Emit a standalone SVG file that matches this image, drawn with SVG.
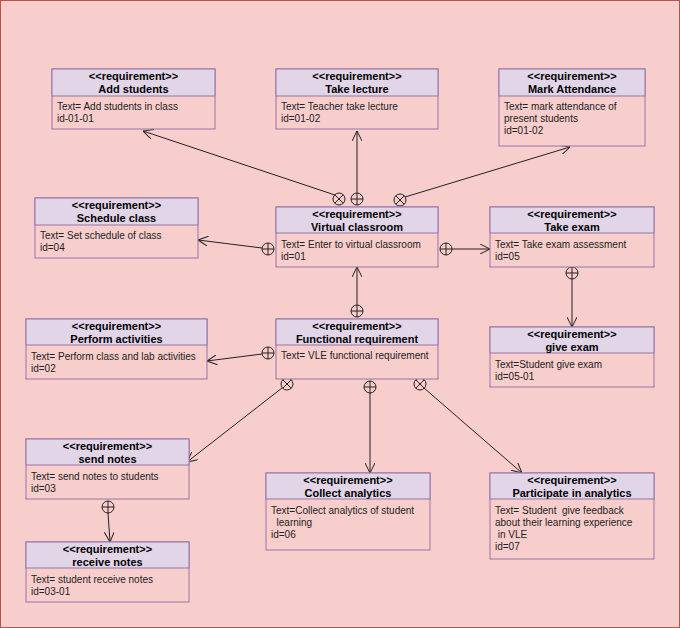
<svg xmlns="http://www.w3.org/2000/svg" width="680" height="628" viewBox="0 0 680 628">
<defs>
<style>
.h{fill:#e1d5e7;stroke:#9673a6;stroke-width:1}
.b{fill:#f8cecc;stroke:#9673a6;stroke-width:1}
.s{font-family:"Liberation Sans",Arial,sans-serif;font-size:11px;font-weight:bold;fill:#000;text-anchor:middle}
.t{font-family:"Liberation Sans",Arial,sans-serif;font-size:10px;fill:#222}
.c line{stroke:#222;stroke-width:1}
.sym{fill:none;stroke:#222;stroke-width:1}
</style>
<marker id="a" viewBox="0 0 10 10" refX="10" refY="5" markerWidth="10" markerHeight="10" orient="auto" markerUnits="userSpaceOnUse"><path d="M0,0 L10,5 L0,10" fill="none" stroke="#222"/></marker>
<g id="op" class="sym"><circle r="6" fill="none"/><path d="M-6,0H6M0,-6V6"/></g>
<g id="ox" class="sym"><circle r="6" fill="none"/><path d="M-4.2,-4.2L4.2,4.2M-4.2,4.2L4.2,-4.2"/></g>
</defs>
<rect x="0.5" y="0.5" width="679" height="627" fill="#f8cecc" stroke="#b85450"/>
<g class="c" id="connectors">
<line x1="335" y1="195" x2="143" y2="131" marker-end="url(#a)"/>
<line x1="357" y1="193" x2="357" y2="131" marker-end="url(#a)"/>
<line x1="405" y1="197" x2="570" y2="147" marker-end="url(#a)"/>
<line x1="262" y1="248" x2="198" y2="240" marker-end="url(#a)"/>
<line x1="452" y1="249" x2="490" y2="249" marker-end="url(#a)"/>
<line x1="572" y1="279" x2="572" y2="327" marker-end="url(#a)"/>
<line x1="357" y1="305" x2="357" y2="267" marker-end="url(#a)"/>
<line x1="262" y1="354" x2="207" y2="361" marker-end="url(#a)"/>
<line x1="282" y1="388" x2="187" y2="462" marker-end="url(#a)"/>
<line x1="370" y1="393" x2="370" y2="473" marker-end="url(#a)"/>
<line x1="424" y1="388" x2="522" y2="473" marker-end="url(#a)"/>
<line x1="108" y1="513" x2="110" y2="542" marker-end="url(#a)"/>
<use href="#ox" x="339" y="199"/><use href="#op" x="357" y="199"/><use href="#ox" x="400" y="200"/>
<use href="#op" x="268" y="249"/><use href="#op" x="446" y="249"/><use href="#op" x="572" y="273"/>
<use href="#op" x="357" y="311"/><use href="#op" x="268" y="353"/><use href="#ox" x="287" y="384"/>
<use href="#op" x="370" y="387"/><use href="#ox" x="420" y="384"/><use href="#op" x="108" y="507"/>
</g>
<g id="add"><rect class="b" x="52" y="69" width="163" height="60"/><rect class="h" x="52" y="69" width="163" height="27"/><text class="s" x="133.5" y="80">&lt;&lt;requirement&gt;&gt;</text><text class="s" x="133.5" y="93">Add students</text><text class="t" x="57" y="110">Text= Add students in class</text><text class="t" x="57" y="122">id-01-01</text></g>
<g id="lecture"><rect class="b" x="276" y="69" width="162" height="60"/><rect class="h" x="276" y="69" width="162" height="27"/><text class="s" x="357" y="80">&lt;&lt;requirement&gt;&gt;</text><text class="s" x="357" y="93">Take lecture</text><text class="t" x="281" y="110">Text= Teacher take lecture</text><text class="t" x="281" y="122">id=01-02</text></g>
<g id="mark"><rect class="b" x="499" y="69" width="146" height="77"/><rect class="h" x="499" y="69" width="146" height="27"/><text class="s" x="572" y="80">&lt;&lt;requirement&gt;&gt;</text><text class="s" x="572" y="93">Mark Attendance</text><text class="t" x="504" y="110">Text= mark attendance of</text><text class="t" x="504" y="122">present students</text><text class="t" x="504" y="134">id=01-02</text></g>
<g id="schedule"><rect class="b" x="35" y="198" width="163" height="60"/><rect class="h" x="35" y="198" width="163" height="27"/><text class="s" x="116.5" y="209">&lt;&lt;requirement&gt;&gt;</text><text class="s" x="116.5" y="222">Schedule class</text><text class="t" x="40" y="239">Text= Set schedule of class</text><text class="t" x="40" y="251">id=04</text></g>
<g id="vc"><rect class="b" x="276" y="207" width="162" height="60"/><rect class="h" x="276" y="207" width="162" height="26"/><text class="s" x="357" y="218">&lt;&lt;requirement&gt;&gt;</text><text class="s" x="357" y="231">Virtual classroom</text><text class="t" x="281" y="248">Text= Enter to virtual classroom</text><text class="t" x="281" y="260">id=01</text></g>
<g id="exam"><rect class="b" x="490" y="207" width="164" height="60"/><rect class="h" x="490" y="207" width="164" height="26"/><text class="s" x="572" y="218">&lt;&lt;requirement&gt;&gt;</text><text class="s" x="572" y="231">Take exam</text><text class="t" x="495" y="248">Text= Take exam assessment</text><text class="t" x="495" y="260">id=05</text></g>
<g id="perform"><rect class="b" x="26" y="319" width="181" height="60"/><rect class="h" x="26" y="319" width="181" height="26"/><text class="s" x="116.5" y="330">&lt;&lt;requirement&gt;&gt;</text><text class="s" x="116.5" y="343">Perform activities</text><text class="t" x="31" y="360">Text= Perform class and lab activities</text><text class="t" x="31" y="372">id=02</text></g>
<g id="fr"><rect class="b" x="276" y="319" width="162" height="60"/><rect class="h" x="276" y="319" width="162" height="26"/><text class="s" x="357" y="330">&lt;&lt;requirement&gt;&gt;</text><text class="s" x="357" y="343">Functional requirement</text><text class="t" x="281" y="359">Text= VLE functional requirement</text></g>
<g id="give"><rect class="b" x="490" y="327" width="164" height="60"/><rect class="h" x="490" y="327" width="164" height="26"/><text class="s" x="572" y="338">&lt;&lt;requirement&gt;&gt;</text><text class="s" x="572" y="351">give exam</text><text class="t" x="495" y="368">Text=Student give exam</text><text class="t" x="495" y="380">id=05-01</text></g>
<g id="send"><rect class="b" x="26" y="439" width="163" height="60"/><rect class="h" x="26" y="439" width="163" height="26"/><text class="s" x="107.5" y="450">&lt;&lt;requirement&gt;&gt;</text><text class="s" x="107.5" y="463">send notes</text><text class="t" x="31" y="480">Text= send notes to students</text><text class="t" x="31" y="492">id=03</text></g>
<g id="collect"><rect class="b" x="266" y="473" width="164" height="77"/><rect class="h" x="266" y="473" width="164" height="26"/><text class="s" x="348" y="484">&lt;&lt;requirement&gt;&gt;</text><text class="s" x="348" y="497">Collect analytics</text><text class="t" x="271" y="514">Text=Collect analytics of student</text><text class="t" x="271" y="526" xml:space="preserve">  learning</text><text class="t" x="271" y="538">id=06</text></g>
<g id="participate"><rect class="b" x="490" y="473" width="164" height="86"/><rect class="h" x="490" y="473" width="164" height="26"/><text class="s" x="572" y="484">&lt;&lt;requirement&gt;&gt;</text><text class="s" x="572" y="497">Participate in analytics</text><text class="t" x="495" y="514" xml:space="preserve">Text= Student  give feedback</text><text class="t" x="495" y="526">about their learning experience</text><text class="t" x="495" y="538" xml:space="preserve"> in VLE</text><text class="t" x="495" y="550">id=07</text></g>
<g id="receive"><rect class="b" x="26" y="542" width="163" height="60"/><rect class="h" x="26" y="542" width="163" height="26"/><text class="s" x="107.5" y="553">&lt;&lt;requirement&gt;&gt;</text><text class="s" x="107.5" y="566">receive notes</text><text class="t" x="31" y="583">Text= student receive notes</text><text class="t" x="31" y="595">id=03-01</text></g>
</svg>
